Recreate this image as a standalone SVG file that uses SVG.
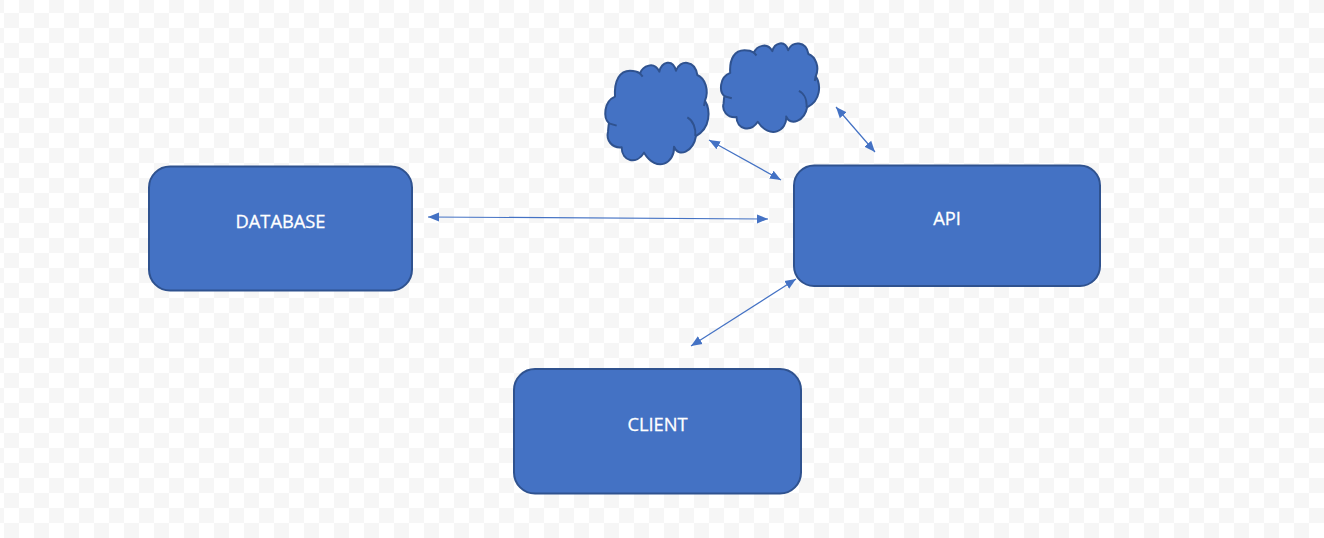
<svg xmlns="http://www.w3.org/2000/svg" xmlns:xlink="http://www.w3.org/1999/xlink" width="1324" height="538" viewBox="0 0 1324 538">
<style>
.box{fill:#4472c4;stroke:#2f528f;stroke-width:2}
.cloud{fill:#4472c4;stroke:#2f528f;stroke-width:2;stroke-linejoin:round;vector-effect:non-scaling-stroke}
.lobe{fill:none;stroke:#2f528f;stroke-width:2;vector-effect:non-scaling-stroke}
.lbl{font-family:"Open Sans","Noto Sans","Liberation Sans",sans-serif;font-size:18.3px;font-weight:400;fill:#fff;stroke:#fff;stroke-width:0.3;text-anchor:middle}
.conn{fill:none;stroke:#4472c4;stroke-width:1.2;marker-start:url(#tip);marker-end:url(#tip)}
</style>
<defs>
<pattern id="checks" x="4" y="-2" width="30" height="30" patternUnits="userSpaceOnUse">
<rect width="30" height="30" fill="#fff"/>
<rect x="15" y="0" width="15" height="15" fill="#f6f6f6"/>
<rect x="0" y="15" width="15" height="15" fill="#f6f6f6"/>
</pattern>
<marker id="tip" markerUnits="userSpaceOnUse" markerWidth="13" markerHeight="11" refX="11" refY="5.5" orient="auto-start-reverse">
<path d="M0 1L11 5.500L0 10Z" fill="#4472c4"/>
</marker>
<g id="cloudShape" transform="translate(590 30) scale(0.33333)">
<path class="cloud" d="M75 200C72 150 90 122 120 122C132 122 143 125 150 130C158 108 192 92 208 125C215 95 248 85 258 122C270 88 315 90 322 135C345 145 358 180 345 212C362 240 362 295 318 318C310 365 265 385 252 350C255 400 200 430 162 368C140 405 95 395 95 352C65 355 48 330 54 305C55 297 55 285 57 280C40 265 40 215 75 200Z"/>
<path class="lobe" d="M292 262C310 272 318 295 316 318M150 130L158 140M57 280L80 287M345 212L342 228M54 305"/>
</g>
</defs>
<rect width="1324" height="538" fill="url(#checks)"/>
<g id="connectors">
<line class="conn" x1="428" y1="217" x2="768" y2="219"/>
<line class="conn" x1="709" y1="140" x2="781" y2="180"/>
<line class="conn" x1="836" y1="107" x2="875" y2="152"/>
<line class="conn" x1="796" y1="279" x2="691" y2="346"/>
</g>
<g id="database">
<rect class="box" x="149" y="166.5" width="263" height="124" rx="21"/>
<text class="lbl" x="280.500" y="227.500">DATABASE</text>
</g>
<g id="api">
<rect class="box" x="794" y="165.500" width="306" height="120.500" rx="20"/>
<text class="lbl" x="947" y="224.500">API</text>
</g>
<g id="client">
<rect class="box" x="514" y="369" width="287" height="124.500" rx="21"/>
<text class="lbl" x="657.500" y="430.500">CLIENT</text>
</g>
<g id="cloud1">
<use xlink:href="#cloudShape" href="#cloudShape"/>
</g>
<g id="cloud2">
<use xlink:href="#cloudShape" href="#cloudShape" transform="translate(720.700 42.700) scale(0.95 0.872) translate(-605 -62)"/>
</g>
</svg>
